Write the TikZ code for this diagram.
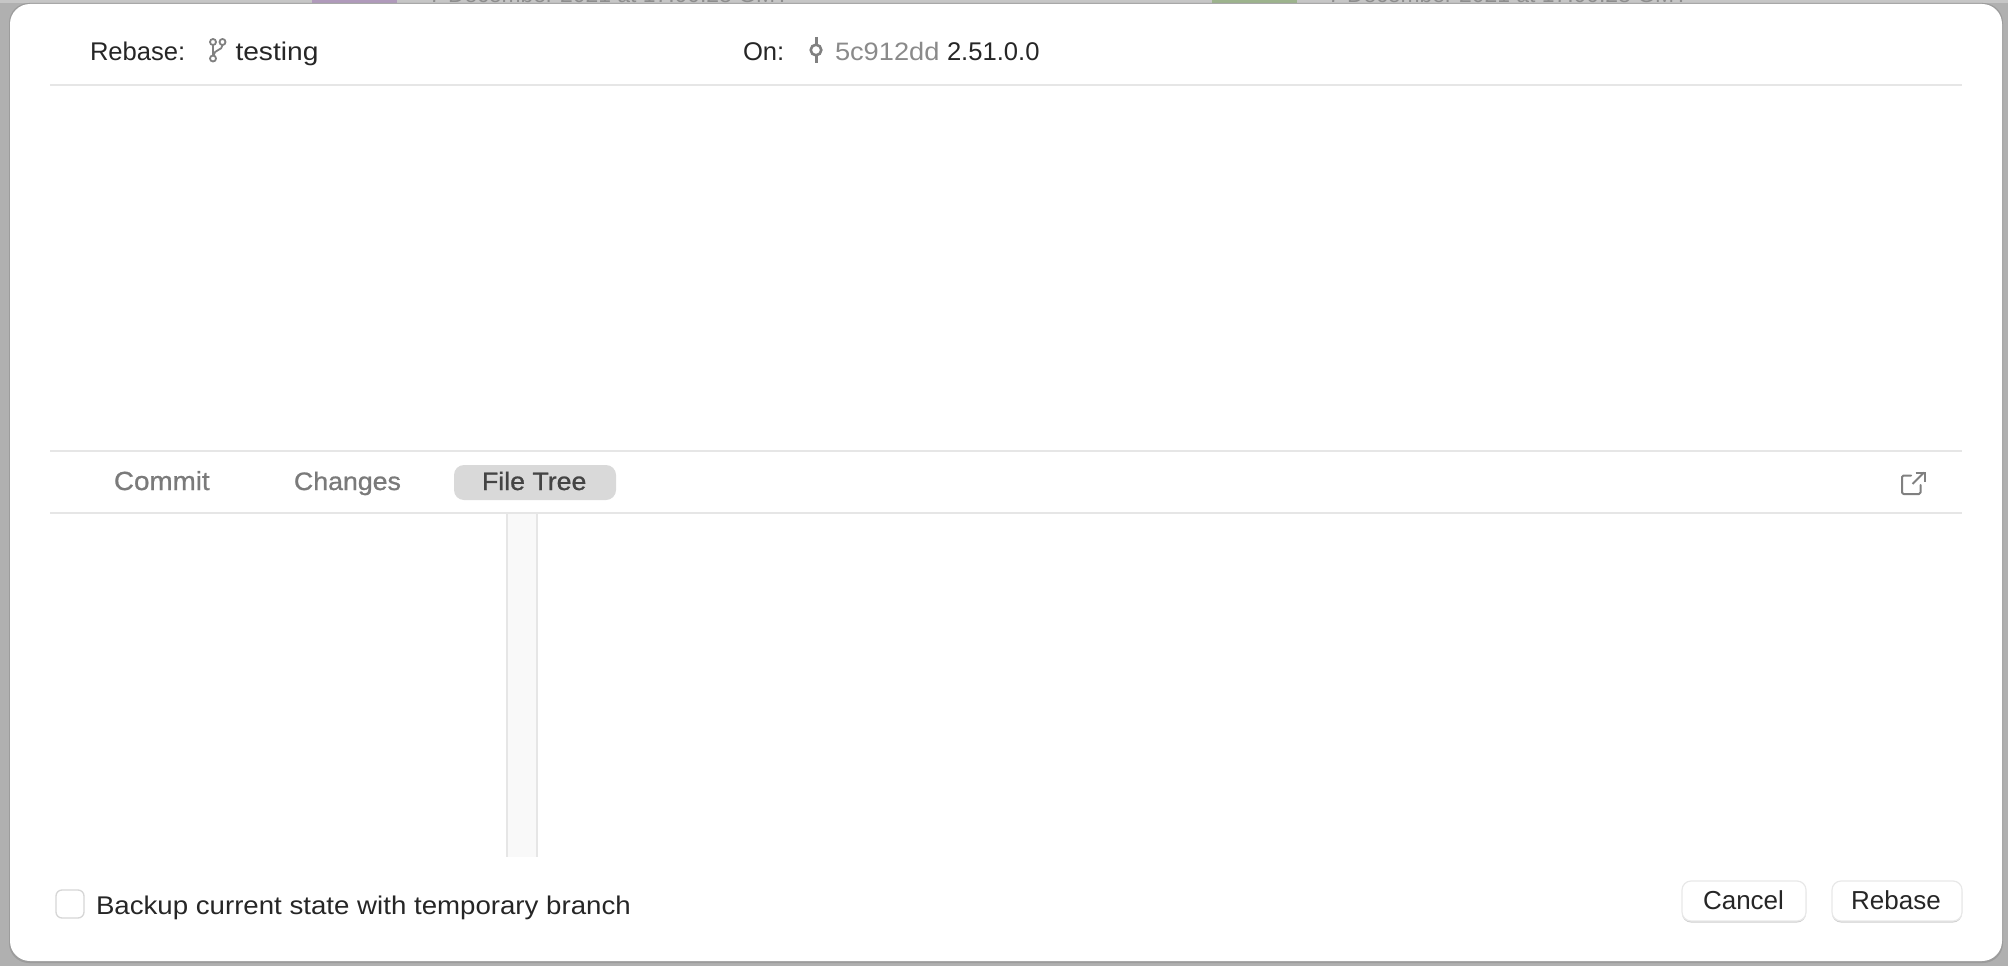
\documentclass[tikz,border=0pt]{standalone}
\usepackage{fontspec}
\setmainfont{Liberation Sans}
\newfontfamily\medfont[FakeBold=0.9,FakeStretch=1.06]{Liberation Sans}
\newfontfamily\widefont[FakeStretch=1.08]{Liberation Sans}
\newfontfamily\widerfont[FakeStretch=1.1]{Liberation Sans}
\definecolor{bggray}{HTML}{B0B0B0}
\definecolor{stripgray}{HTML}{C6C6C6}
\definecolor{stripedge}{HTML}{9C9C9C}
\definecolor{ruleg}{HTML}{E6E6E6}
\definecolor{ink}{HTML}{262626}
\definecolor{iconc}{HTML}{808080}
\definecolor{hashc}{HTML}{8A8A8A}
\definecolor{tabc}{HTML}{7A7A7A}
\definecolor{pillc}{HTML}{D9D9D9}
\definecolor{pillt}{HTML}{444444}
\definecolor{splitf}{HTML}{F9F9F9}
\definecolor{btnb}{HTML}{E8E8E8}
\definecolor{btns}{HTML}{CFCFCF}
\definecolor{purp}{HTML}{B09ABB}
\definecolor{gree}{HTML}{9DB38D}
\definecolor{ghost}{HTML}{8E8E8E}
\tikzset{
  lbl/.style={inner sep=0pt,outer sep=0pt,anchor=base west,text=ink,font=\fontsize{25.6}{30}\selectfont},
  widelbl/.style={lbl,font=\widefont\fontsize{25.6}{30}\selectfont},
  tablbl/.style={lbl,text=tabc,font=\medfont\fontsize{25.2}{30}\selectfont},
  btnlbl/.style={inner sep=0pt,outer sep=0pt,anchor=base,text=ink,font=\fontsize{26}{30}\selectfont},
  ghostlbl/.style={lbl,text=ghost,font=\fontsize{22.9}{28}\selectfont},
  hair/.style={draw=ruleg,line width=2pt},
  ico/.style={draw=iconc,line width=1.8pt},
  btn/.style={draw=btnb,line width=1.2pt,fill=white,rounded corners=9pt},
  btnshadow/.style={fill=btns,rounded corners=9pt}
}
\begin{document}
\begin{tikzpicture}[x=1pt,y=-1pt]
\useasboundingbox (0,0) rectangle (2008,966);
% backdrop
\fill[bggray] (0,0) rectangle (2008,966);
\fill[stripgray] (0,0) rectangle (2008,3);
\fill[purp] (312,0) rectangle (397,3);
\fill[gree] (1212,0) rectangle (1297,3);
\begin{scope}
  \clip (0,0) rectangle (2008,3);
  \node[ghostlbl] (date1) at (429,3) {7 December 2021 at 17:00:28 GMT};
  \node[ghostlbl] (date2) at (1328,3) {7 December 2021 at 17:00:28 GMT};
\end{scope}
% window
\fill[stripedge,rounded corners=20pt] (9,3) rectangle (2003,963);
\fill[white,rounded corners=20pt] (10,4) rectangle (2002,961);
% rules
\coordinate (r1a) at (50,84.5); \coordinate (r1b) at (1962,84.5);
\coordinate (r2a) at (50,450.5);  \coordinate (r2b) at (1962,450.5);
\coordinate (r3a) at (50,512.5);  \coordinate (r3b) at (1962,512.5);
\draw[hair] (r1a) -- (r1b);
\draw[hair] (r2a) -- (r2b);
\draw[hair] (r3a) -- (r3b);
% splitter
\fill[splitf] (507,513.5) rectangle (537,857);
\draw[hair,line width=1.6pt] (507,513.5) -- (507,857);
\draw[hair] (537,513.5) -- (537,857);
% header
\node[lbl] (rebaselbl) at (90,60) {Rebase:};
\node[lbl,font=\widerfont\fontsize{25.6}{30}\selectfont] (branch) at (235.5,60) {testing};
\node[lbl] (onlbl) at (743,60) {On:};
\node[lbl,text=hashc,font=\widefont\fontsize{25.2}{30}\selectfont] (hash) at (835,60) {5c912dd};
\node[lbl] (tag) at (947,60) {2.51.0.0};
% branch icon
\draw[ico] (213,42) circle (3pt);
\draw[ico] (222.5,42) circle (3pt);
\draw[ico] (213,58.5) circle (3pt);
\draw[ico] (213,45) -- (213,55.5);
\draw[ico] (222.5,45) .. controls (222.5,51) and (214,49) .. (213.5,55.5);
% commit icon
\draw[ico,line width=3pt] (816,37) -- (816,44.5);
\draw[ico,line width=3pt] (816,55.5) -- (816,63);
\draw[ico,line width=2.6pt] (816,50) circle (5.3pt);
% tabs
\fill[pillc,rounded corners=10pt] (454,465) rectangle (616,500);
\node[tablbl,font=\medfont\fontsize{26.2}{30}\selectfont] (tabcommit) at (114,490) {Commit};
\node[tablbl] (tabchanges) at (294,490) {Changes};
\node[tablbl,text=pillt] (tabtree) at (482,490) {File Tree};
% external link icon
\draw[ico,line width=2pt,line cap=round,line join=round,rounded corners=1.5pt] (1911,475.5) -- (1902,475.5) -- (1902,494) -- (1920.5,494) -- (1920.5,485);
\draw[ico,line width=2pt] (1912.5,484) -- (1924,472.5);
\draw[ico,line width=2pt] (1915.5,472.5) -- (1924.5,472.5) -- (1924.5,481.5);
% checkbox
\draw[draw=black!16,fill=white,line width=1.3pt,rounded corners=6pt] (56,890) rectangle (84,918);
\node[widelbl] (backup) at (96,914.5) {Backup current state with temporary branch};
% buttons
\fill[btnshadow] (1682,883) rectangle (1806,922.5);
\fill[btnshadow] (1832,883) rectangle (1962,922.5);
\draw[btn] (1682,881) rectangle (1806,921);
\draw[btn] (1832,881) rectangle (1962,921);
\node[btnlbl] (cancel) at (1743.5,909) {Cancel};
\node[btnlbl] (rebasebtn) at (1896,909) {Rebase};
\end{tikzpicture}
\end{document}
